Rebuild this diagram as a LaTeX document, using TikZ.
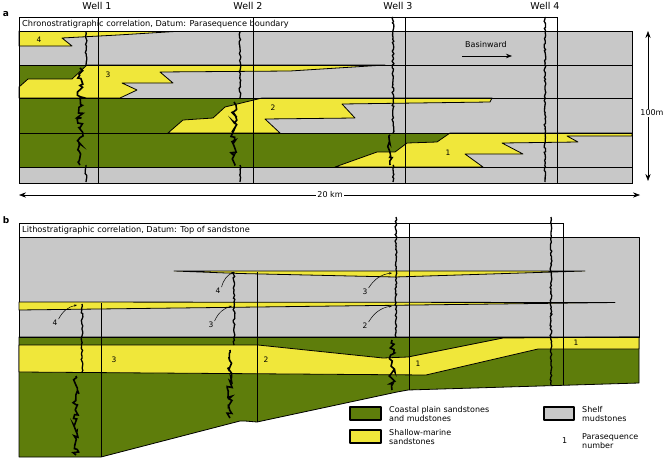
\documentclass[tikz,border=0pt]{standalone}
\usepackage{fontspec}
\setmainfont{DejaVu Sans}
\usetikzlibrary{decorations.pathmorphing,arrows.meta}
\definecolor{cg}{HTML}{5E7D0B}
\definecolor{cy}{HTML}{F0E73A}
\definecolor{cgr}{HTML}{C8C8C8}
\tikzset{
  lay/.style={draw=black,line width=0.8pt,line join=round},
  frame/.style={draw=black,line width=0.7pt},
  logq/.style={draw=black,line width=1.3pt,decorate,decoration={random steps,segment length=2pt,amplitude=0.9pt}},
  logs/.style={draw=black,line width=1.6pt,decorate,decoration={random steps,segment length=2.5pt,amplitude=3pt}},
  lbl/.style={font=\fontsize{7.5}{8}\selectfont,inner sep=1pt},
  wl/.style={font=\fontsize{9.5}{10}\selectfont},
  ttl/.style={font=\fontsize{8.2}{9}\selectfont,anchor=west,inner sep=0pt},
  leg/.style={font=\fontsize{8}{8.5}\selectfont,anchor=west,align=left,inner sep=0pt},
  parr/.style={-{Stealth[length=3pt]},line width=0.5pt},
}
\begin{document}
\begin{tikzpicture}[x=1pt,y=-1pt]
\pgfmathsetseed{7}
\useasboundingbox (0,0) rectangle (667,458);
% ---------------- panel a ----------------
\fill[cgr] (19,31) rectangle (632,183);
\fill[cg] (19,65) rectangle (100,98);
\fill[cg] (19,98) rectangle (262,133);
\fill[cg] (19,133) rectangle (450,167);
\path[lay,fill=cy] (19,31)--(183,31)--(118,35)--(62,38)--(72,46)--(19,46)--cycle;
\path[lay,fill=cy] (19,98)--(19,87)--(28,79)--(72,79)--(87,65)--(385,65)--(290,71)--(160,72)--(173,83)--(122,83)--(137,90)--(120,98)--cycle;
\path[lay,fill=cy] (168,133)--(183,120)--(213,118)--(225,107)--(262,98)--(492,98)--(490,102)--(342,104)--(355,118)--(265,119)--(280,133)--cycle;
\path[lay,fill=cy] (335,167)--(377,152)--(395,152)--(407,143)--(437,142)--(450,133)--(632,133)--(632,136)--(567,136)--(578,142)--(502,143)--(523,154)--(465,154)--(483,167)--cycle;
\foreach \yy in {31,65,98,133,167} \draw[line width=0.8pt] (19,\yy)--(632,\yy);
\draw[frame] (19,31) rectangle (632,183);
\draw[frame,fill=white] (19,17) rectangle (557,31);
\node[ttl] (ta) at (22,24) {Chronostratigraphic correlation, Datum: Parasequence boundary};
\foreach \xx in {98,253,405,557} \draw[frame] (\xx,17)--(\xx,183);
% logs a
\draw[logq] (86,32)--(86,65);
\draw[logs] (80,68)--(80,165);
\draw[logq] (86,165)--(86,182);
\draw[logq] (240,32)--(240,98);
\draw[logs] (234,102)--(234,165);
\draw[logq] (240,165)--(240,182);
\draw[logq] (393,17)--(393,133);
\draw[logs] (390,135)--(390,165);
\draw[logq] (393,165)--(393,182);
\draw[logq] (545,17)--(545,182);
\node[wl] (w1) at (97,6) {Well 1};
\node[wl] (w2) at (248,6) {Well 2};
\node[wl] (w3) at (398,6) {Well 3};
\node[wl] (w4) at (545,6) {Well 4};
\node[font=\bfseries\fontsize{9}{9}\selectfont] (la) at (6,14) {a};
\node[lbl] (n4) at (39,40) {4};
\node[lbl] (n3) at (108,75) {3};
\node[lbl] (n2) at (273,108) {2};
\node[lbl] (n1) at (448,153) {1};
\node[lbl,font=\fontsize{8}{8}\selectfont] (bw) at (486,45) {Basinward};
\coordinate (bw1) at (462,56); \coordinate (bw2) at (512,56);
\draw[-{Stealth[length=6pt]},line width=0.6pt] (bw1)--(bw2);
\coordinate (k1) at (19,195); \coordinate (k2) at (640,195);
\draw[{Stealth[length=7pt]}-{Stealth[length=7pt]},line width=0.6pt] (k1)--(k2);
\node[lbl,fill=white,font=\fontsize{8}{8}\selectfont] (km) at (330,195) {20 km};
\coordinate (m1) at (648,31); \coordinate (m2) at (648,181);
\draw[{Stealth[length=7pt]}-{Stealth[length=7pt]},line width=0.6pt] (m1)--(m2);
\node[lbl,fill=white,font=\fontsize{8}{8}\selectfont] (hm) at (652,113) {100m};
% ---------------- panel b ----------------
\fill[cgr] (19,237) rectangle (639,337);
\path[lay,fill=cg] (19,337)--(639,337)--(639,383)--(408,390)--(397,392)--(257,422)--(245,421)--(240,421)--(101,457)--(19,457)--cycle;
\path[lay,fill=cy] (19,345)--(258,345)--(383,358)--(408,357)--(503,338)--(639,337)--(639,349)--(538,349)--(426,375)--(19,372)--cycle;
\draw[lay] (19,237) rectangle (639,337);
\path[lay,fill=cy] (174,271)--(585,271)--(395,277)--(240,273.5)--cycle;
\path[lay,fill=cy] (19,302)--(615,302.5)--(19,310)--cycle;
\draw[frame,fill=white] (19,223) rectangle (563,237);
\node[ttl] (tb) at (22,230) {Lithostratigraphic correlation, Datum: Top of sandstone};
\draw[frame] (101,303)--(101,457);
\draw[frame] (257,272)--(257,422);
\draw[frame] (409,223)--(409,390);
\draw[frame] (563,223)--(563,385);
% logs b
\draw[logq] (82,304)--(82,372);
\draw[logs] (76,376)--(76,455);
\draw[logq] (234,272)--(234,345);
\draw[logs] (230,350)--(230,418);
\draw[logq] (396,217)--(396,337);
\draw[logs] (392,340)--(392,390);
\draw[logq] (551,217)--(551,385);
\node[font=\bfseries\fontsize{9}{9}\selectfont] (lb) at (6,220) {b};
\node[lbl] (b4a) at (55,323) {4};
\node[lbl] (b4b) at (218,291) {4};
\node[lbl] (b3a) at (211,325) {3};
\node[lbl] (b3b) at (365,292) {3};
\node[lbl] (b2) at (365,326) {2};
\coordinate (t4a) at (77,305); \coordinate (t4b) at (234,272);
\coordinate (t3a) at (232,306); \coordinate (t3b) at (392,273);
\coordinate (t2) at (392,306);
\draw[parr] (b4a.north east) to[bend left=25] (t4a);
\draw[parr] (b4b.north east) to[bend left=25] (t4b);
\draw[parr] (b3a.north east) to[bend left=25] (t3a);
\draw[parr] (b3b.north east) to[bend left=25] (t3b);
\draw[parr] (b2.north east) to[bend left=25] (t2);
\node[lbl] (p3) at (114,360) {3};
\node[lbl] (p2) at (266,360) {2};
\node[lbl] (p1a) at (418,364) {1};
\node[lbl] (p1b) at (576,343) {1};
% legend
\draw[lay,line width=1.2pt,fill=cg] (350,407) rectangle (381,420);
\node[leg] (lg1) at (389,414) {Coastal plain sandstones\\and mudstones};
\draw[lay,line width=1.2pt,fill=cy] (350,430) rectangle (381,443);
\node[leg] (lg2) at (389,437) {Shallow-marine\\sandstones};
\draw[lay,line width=1.2pt,fill=cgr] (544,407) rectangle (574,420);
\node[leg] (lg3) at (582,414) {Shelf\\mudstones};
\node[leg] (lg4n) at (562,441) {1};
\node[leg] (lg4) at (582,441) {Parasequence\\number};
\end{tikzpicture}
\end{document}
